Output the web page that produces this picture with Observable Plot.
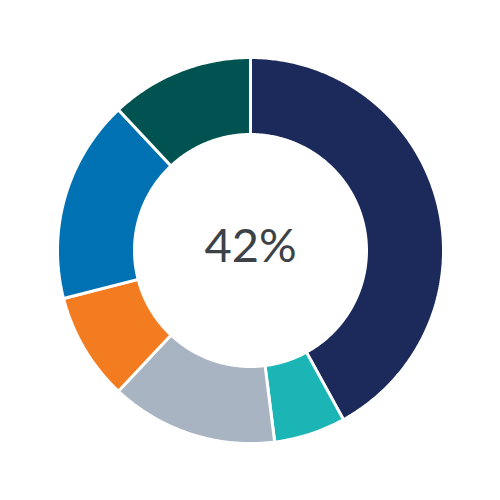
<!DOCTYPE html>
<html>
<head>
<meta charset="utf-8">
<script src="https://cdn.jsdelivr.net/npm/d3@7"></script>
<script src="https://cdn.jsdelivr.net/npm/@observablehq/plot@0.6"></script>
<style>
  html, body { margin: 0; padding: 0; background: #fff; }
  #chart { width: 500px; height: 500px; }
</style>
</head>
<body>
<div id="chart"></div>
<script>
const categories = ["A", "B", "C", "D", "E", "F"];
const values = [42, 6, 14, 9, 17, 12];
const colors = ["#1b2a5b", "#1bb5b6", "#a9b4c2", "#f47c20", "#0072b3", "#005350"];
const centerLabel = "42%";

const R_OUT = 193, R_IN = 116;
const pie = d3.pie().sort(null).value(d => d.value)(
  categories.map((c, i) => ({category: c, value: values[i]}))
);

function arcRing(a0, a1) {
  const n = Math.max(8, Math.ceil((a1 - a0) / 0.01));
  const outer = [], inner = [];
  for (let k = 0; k <= n; k++) {
    const a = a0 + (a1 - a0) * k / n;
    outer.push([R_OUT * Math.sin(a), -R_OUT * Math.cos(a)]);
    inner.push([R_IN * Math.sin(a), -R_IN * Math.cos(a)]);
  }
  const ring = outer.concat(inner.reverse());
  ring.push(ring[0]);
  return ring;
}

const features = pie.map(p => ({
  type: "Feature",
  properties: {category: p.data.category, value: p.data.value},
  geometry: {type: "Polygon", coordinates: [arcRing(p.startAngle, p.endAngle)]}
}));

const chart = Plot.plot({
  width: 500,
  height: 500,
  margin: 0,
  projection: {
    type: "identity",
    domain: {type: "MultiPoint", coordinates: [[-250, -250], [250, 250]]}
  },
  color: {domain: categories, range: colors},
  marks: [
    Plot.geo(features, {
      fill: d => d.properties.category,
      stroke: "white",
      strokeWidth: 3,
      strokeLinejoin: "miter"
    }),
    Plot.text([centerLabel], {
      x: 0, y: 0,
      text: d => d,
      fontSize: 47,
      fontFamily: "Lato",
      fill: "#3d4247",
      dy: -4
    })
  ]
});
document.getElementById("chart").appendChild(chart);
</script>
</body>
</html>
